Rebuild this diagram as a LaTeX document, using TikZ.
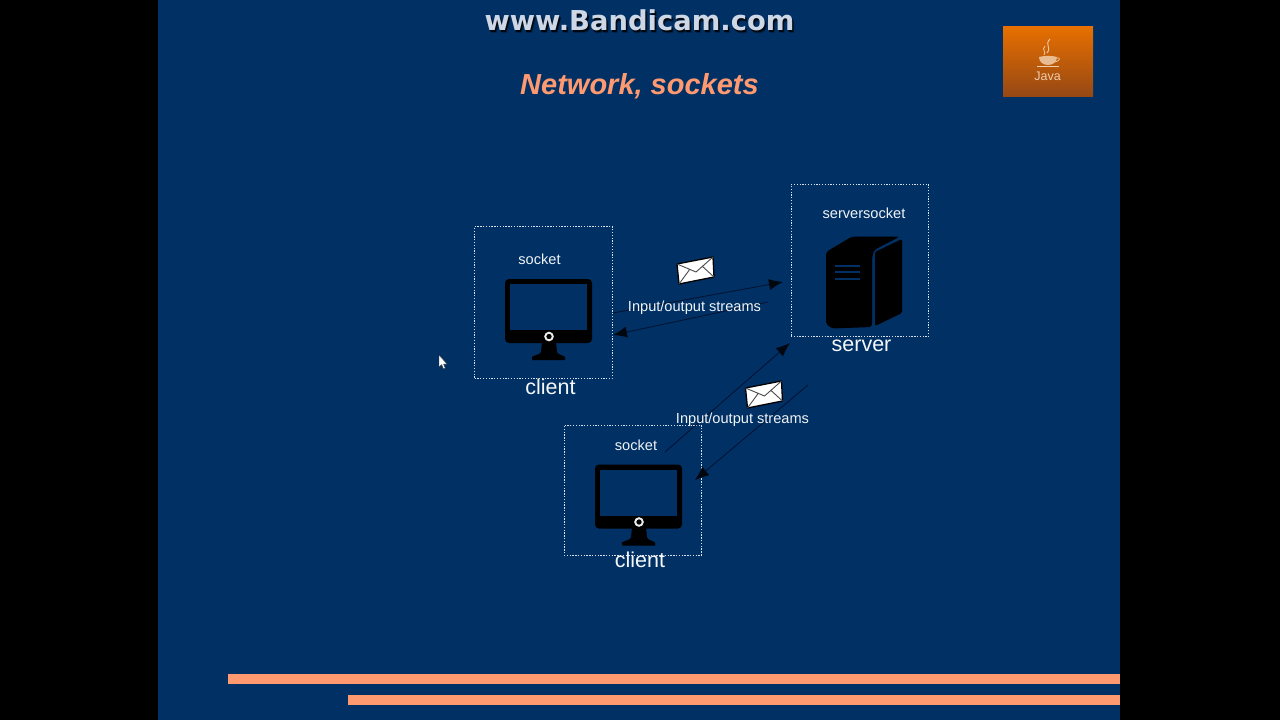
\documentclass[tikz,border=0pt]{standalone}
\usepackage{fontspec}
\setmainfont{Liberation Sans}
\newfontfamily\wmfont{DejaVu Sans}
\usetikzlibrary{arrows.meta}
\definecolor{slidebg}{RGB}{0,48,100}
\definecolor{salmon}{RGB}{255,153,112}
\definecolor{linedark}{RGB}{3,18,48}
\definecolor{logotop}{RGB}{232,112,0}
\definecolor{logomid}{RGB}{205,90,8}
\definecolor{logobot}{RGB}{150,72,20}
\definecolor{logofg}{RGB}{240,205,170}
\definecolor{wmfg}{RGB}{205,215,230}
\tikzset{
  x=1pt,y=-1pt,
  dotbox/.style={draw=white!85!slidebg,dash pattern=on 1.3pt off 1.5pt,line width=0.75pt,minimum width=137.5pt,inner sep=0pt,outer sep=0pt},
  smalllab/.style={text=white!94!slidebg,font=\fontsize{14.6}{16}\selectfont,inner sep=0pt},
  biglab/.style={text=white!96!slidebg,font=\fontsize{21.5}{24}\selectfont,inner sep=0pt},
  stream/.style={draw=linedark,line width=0.8pt,-{Latex[length=14pt,width=11pt,color=black!85!slidebg]}},
  bar/.style={fill=salmon,draw=none,inner sep=0pt,outer sep=0pt,anchor=north west},
  wmtext/.style={font=\wmfont\bfseries\fontsize{27.4}{30}\selectfont,inner sep=0pt},
  pics/monitor/.style={code={
    \fill[black,rounded corners=4pt] (0,0) rectangle (87,64);
    \fill[slidebg] (5,5) rectangle (82,51);
    \fill[black] (37,63) -- (51,63) -- (52,73) .. controls (53,76) and (58,76) .. (60,78) -- (60,81) -- (27,81) -- (27,78) .. controls (29,76) and (35,76) .. (36,73) -- cycle;
    \draw[white!85!gray,line width=1.9pt] (44,57.5) circle (3.8);
  }},
  pics/envelope/.style={code={
    \fill[white,draw=black,line width=1.3pt,line join=round] (0,7) -- (36,0) -- (37,20) -- (2,27) -- cycle;
    \draw[black!70,line width=0.9pt] (0,7) -- (19,15) -- (36,0) (2,27) -- (13,12) (37,20) -- (25,9);
  }}
}
\begin{document}
\begin{tikzpicture}
\useasboundingbox (0,0) rectangle (1280,720);
\fill[black] (0,0) rectangle (1280,720);
\fill[slidebg] (158,0) rectangle (1120,720);

% watermark
\node[text=black!30!slidebg,wmtext] (wmshadow2) at (641.5,23) {www.Bandicam.com};
\node[text=black!85!slidebg,wmtext] (wmshadow) at (640.8,22) {www.Bandicam.com};
\node[text=wmfg,wmtext] (wm) at (639.5,20.5) {www.Bandicam.com};
% title
\node[text=salmon,font=\bfseries\itshape\fontsize{29}{32}\selectfont,inner sep=0pt] (title) at (639.5,86) {Network, sockets};

% Java logo
\shade[top color=logotop,middle color=logomid,bottom color=logobot] (1003,26) rectangle (1093,96);
\node[text=logofg,font=\fontsize{12.5}{14}\selectfont,inner sep=0pt] (javatext) at (1047.5,76) {Java};
\draw[logofg,line width=0.9pt] (1050,39) .. controls (1044,45) and (1052,47) .. (1047,53);
\draw[logofg,line width=0.8pt] (1045,46) .. controls (1041,50) and (1047,52) .. (1044,55);
\fill[logofg,opacity=0.85] (1039,57) .. controls (1044,55.5) and (1052,55.5) .. (1057,57) .. controls (1057,62) and (1053,65) .. (1048,65) .. controls (1043,65) and (1039,62) .. (1039,57) -- cycle;
\draw[logofg,line width=0.7pt] (1057,58) .. controls (1061,57) and (1060,61) .. (1055,62);
\draw[logofg,line width=0.7pt] (1037,66.5) -- (1059,66.5);

% boxes
\node[dotbox,minimum height=152pt,anchor=north west] (clientA) at (474.5,226.5) {};
\node[dotbox,minimum height=152pt,anchor=north west] (serverbox) at (791,184.5) {};
\node[dotbox,minimum height=130pt,anchor=north west] (clientB) at (564,425) {};

% monitors
\pic at (505,279) {monitor};
\pic at (595,464.5) {monitor};

% server
\fill[black,rounded corners=3pt] (826,252) -- (852,236.5) -- (900,236.5) -- (874,250) -- (872,258) -- (872,327) -- (832,328.5) -- (826,324) -- cycle;
\fill[black,rounded corners=1.5pt] (875,252) -- (902,239) -- (902,313) -- (875,326) -- cycle;
\draw[slidebg,line width=2pt] (835,265.5) -- (860,265.5) (835,272) -- (860,272) (835,279) -- (860,279);

% envelopes
\pic at (677,257) {envelope};
\pic at (745.5,381) {envelope};

% arrows
\coordinate (a1s) at (613,313);
\coordinate (a1e) at (783,282);
\coordinate (a2s) at (768,302);
\coordinate (a2e) at (613,335);
\coordinate (a3s) at (665,452);
\coordinate (a3e) at (790,343);
\coordinate (a4s) at (808,385);
\coordinate (a4e) at (695,480);
\draw[stream] (a1s) -- (a1e);
\draw[stream] (a2s) -- (a2e);
\draw[stream] (a3s) -- (a3e);
\draw[stream] (a4s) -- (a4e);

% labels
\node[smalllab] (sockA) at (539.5,259) {socket};
\node[smalllab] (sockS) at (864,213) {serversocket};
\node[smalllab] (sockB) at (636,445) {socket};
\node[smalllab] (ioA) at (694.5,307.5) {Input/output streams};
\node[smalllab] (ioB) at (742.5,420) {Input/output streams};
\node[biglab] (cliA) at (550.5,387) {client};
\node[biglab] (srv) at (861.5,346) {server};
\node[biglab] (cliB) at (640,560) {client};

% bars
\node[bar,minimum width=892pt,minimum height=10pt] (bar1) at (228,674) {};
\node[bar,minimum width=772pt,minimum height=10pt] (bar2) at (348,695) {};

% mouse pointer
\fill[white,draw=black!80,line width=0.4pt,line join=round] (439,355) -- (439,367) -- (441.7,364.6) -- (443.5,369) -- (445.3,368.2) -- (443.5,364) -- (447,364) -- cycle;
\end{tikzpicture}
\end{document}
